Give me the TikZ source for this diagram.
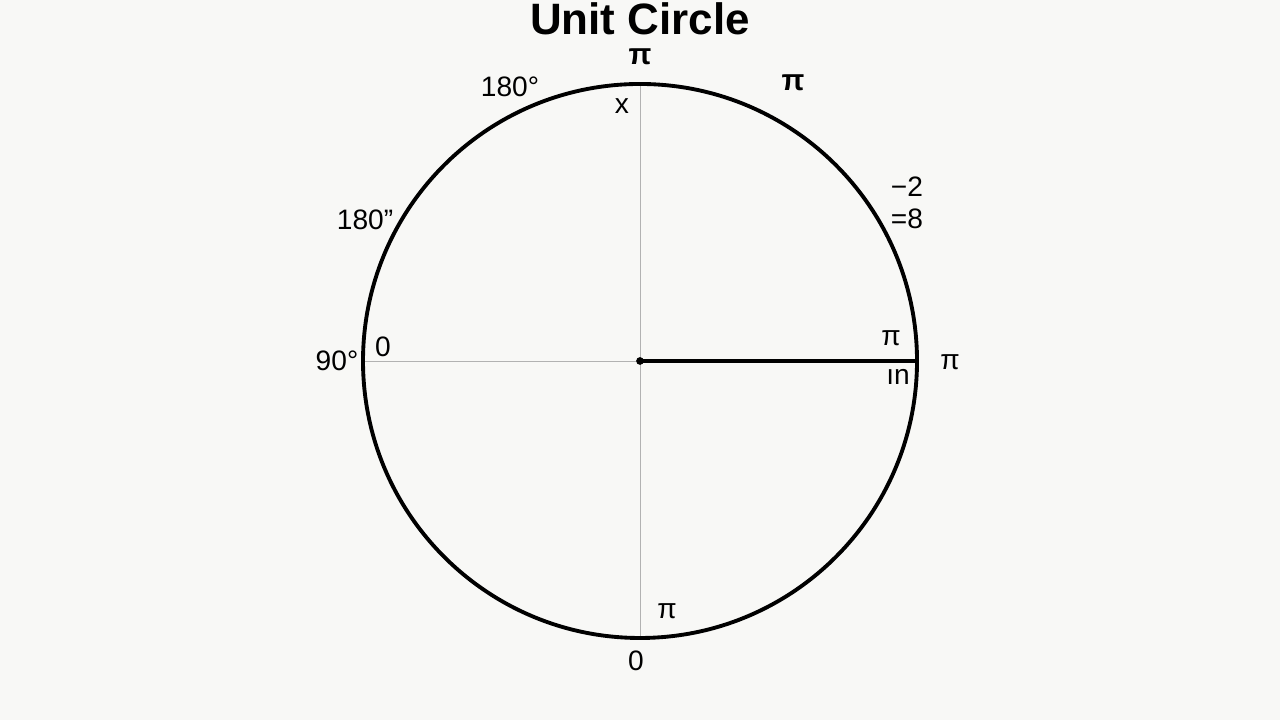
\documentclass[tikz,border=0pt]{standalone}
\usepackage{fontspec}
\setmainfont{Liberation Sans}
\usepackage{xcolor}
\usepackage{tikz}
\usetikzlibrary{positioning}
\definecolor{paper}{HTML}{F8F8F6}
\tikzset{lbl node/.style={inner sep=0pt,font=\fontsize{8}{9}\selectfont},
  big node/.style={inner sep=0pt,font=\fontsize{8.5}{9}\selectfont\bfseries},
  axis line/.style={draw,gray!60,line width=.25pt},}

\begin{document}
\begin{tikzpicture}
    \fill[paper] (0,0) rectangle (12.8,7.2);
    \useasboundingbox (0,0) rectangle (12.8,7.2);

    \coordinate (O) at (6.4,3.59);
    \coordinate (top) at (6.4,6.36);
    \coordinate (bot) at (6.4,0.83);
    \coordinate (left) at (3.63,3.59);
    \coordinate (right) at (9.17,3.59);

    \path[axis line] (top) -- (bot);
    \path[axis line] (left) -- (O);
    \draw[line width=1.1pt] (O) circle (2.77);
    \draw[line width=1.1pt] (O) -- (right);
    \fill (O) circle (1.1pt);

    \node[inner sep=0pt,font=\fontsize{12.5}{13}\selectfont\bfseries] (title) at (6.4,7.01) {Unit Circle};
    \node[big node] (pitop) at (6.4,6.63) {π};
    \node[big node] (piright) at (7.93,6.37) {π};
    \node[lbl node] (d180a) at (5.10,6.33) {180°};
    \node[lbl node] (x) at (6.22,6.14) {x};
    \node[lbl node] (m2) at (9.07,5.33) {−2};
    \node[lbl node] (e8) at (9.07,5.01) {=8};
    \node[lbl node] (d180b) at (3.65,5.00) {180”};
    \node[lbl node] (d90) at (3.37,3.59) {90°};
    \node[lbl node] (zl) at (3.83,3.73) {0};
    \node[lbl node] (pir) at (8.91,3.82) {π};
    \node[lbl node] (pirr) at (9.50,3.58) {π};
    \node[lbl node] (un) at (8.98,3.43) {ın};
    \node[lbl node] (pib) at (6.67,1.09) {π};
    \node[lbl node] (zb) at (6.36,0.59) {0};
\end{tikzpicture}
\end{document}
